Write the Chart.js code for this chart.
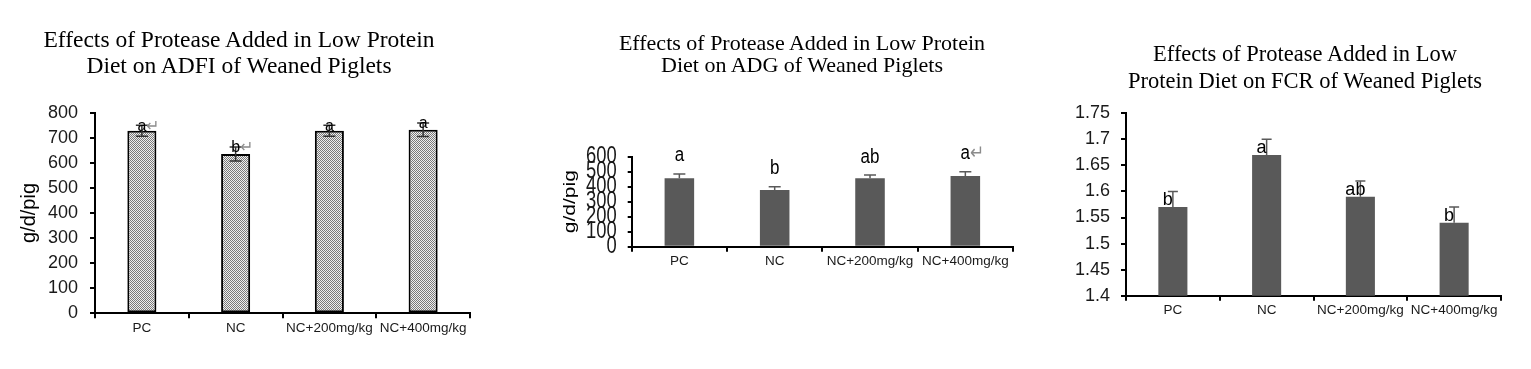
<!DOCTYPE html>
<html>
<head>
<meta charset="utf-8">
<script src="https://cdn.jsdelivr.net/npm/chart.js@4.4.1/dist/chart.umd.min.js"></script>
<style>
  body { margin: 0; background: #fff; }
  #lienzo { position: relative; width: 1531px; height: 369px; overflow: hidden; background: #fff; }
  #lienzo canvas { position: absolute; top: 0; }
  .titulo {
    position: absolute; width: 520px; text-align: center; white-space: nowrap; color: #000;
    font-family: "Liberation Serif", "Times New Roman", serif;
  }
</style>
</head>
<body>
<div id="lienzo">
  <canvas id="graficoADFI" width="500" height="369" style="left:0px"></canvas>
  <canvas id="graficoADG" width="510" height="369" style="left:530px"></canvas>
  <canvas id="graficoFCR" width="491" height="369" style="left:1040px"></canvas>

  <div class="titulo" style="left:-21px; top:26px; font-size:23.5px; line-height:26px;">Effects of Protease Added in Low Protein<br>Diet on ADFI of Weaned Piglets</div>
  <div class="titulo" style="left:542px; top:32px; font-size:22px; line-height:22px;">Effects of Protease Added in Low Protein<br>Diet on ADG of Weaned Piglets</div>
  <div class="titulo" style="left:1045px; top:41px; font-size:22.5px; line-height:26.5px;">Effects of Protease Added in Low<br>Protein Diet on FCR of Weaned Piglets</div>
</div>

<script>
// datos
const categorias = ['PC', 'NC', 'NC+200mg/kg', 'NC+400mg/kg'];

const adfiValores = [728, 635, 728, 732];
const adfiErrores = [22, 28, 22, 27];
const adfiLetras = ['a↵', 'b↵', 'a', 'a'];
const adfiTicks = [0, 100, 200, 300, 400, 500, 600, 700, 800];

const adgValores = [456, 378, 456, 471];
const adgErrores = [29, 22, 22, 29];
const adgLetras = ['a', 'b', 'ab', 'a↵'];
const adgTicks = [0, 100, 200, 300, 400, 500, 600];

const fcrValores = [1.57, 1.67, 1.59, 1.54];
const fcrErrores = [0.03, 0.03, 0.03, 0.03];
const fcrLetras = ['b', 'a', 'ab', 'b'];
const fcrTicks = [1.4, 1.45, 1.5, 1.55, 1.6, 1.65, 1.7, 1.75];

const SANS = '"Liberation Sans", Arial, sans-serif';

// barras de error + letras de significancia
const errorYLetras = {
    id: 'errorYLetras',
    afterDatasetsDraw(chart, args, opts) {
        const ctx = chart.ctx;
        const escalaY = chart.scales.y;
        const valores = chart.data.datasets[0].data;
        ctx.save();
        chart.getDatasetMeta(0).data.forEach((barra, i) => {
            const x = barra.x;
            const yArriba = escalaY.getPixelForValue(valores[i] + opts.errores[i]);
            const yAbajo = opts.ambos ? escalaY.getPixelForValue(valores[i] - opts.errores[i]) : barra.y;

            ctx.strokeStyle = opts.color;
            ctx.lineWidth = opts.grosor;
            ctx.beginPath();
            ctx.moveTo(x, yArriba);
            ctx.lineTo(x, yAbajo);
            ctx.moveTo(x - opts.tapa, yArriba);
            ctx.lineTo(x + opts.tapa, yArriba);
            if (opts.ambos) {
                ctx.moveTo(x - opts.tapa, yAbajo);
                ctx.lineTo(x + opts.tapa, yAbajo);
            }
            ctx.stroke();

            const partes = opts.letras[i].split('↵');
            const lx = x + opts.dx;
            const ly = (opts.desdeBarra ? barra.y : yArriba) + opts.dy;
            ctx.save();
            ctx.translate(lx, 0);
            ctx.scale(opts.compresion || 1, 1);
            ctx.font = opts.fuente;
            ctx.textAlign = 'center';
            ctx.textBaseline = 'middle';
            ctx.fillStyle = '#000';
            ctx.fillText(partes[0], 0, ly);
            if (partes.length > 1) {
                const ancho = ctx.measureText(partes[0]).width;
                ctx.textAlign = 'left';
                ctx.fillStyle = '#8c8c8c';
                ctx.fillText('↵', ancho / 2, ly);
            }
            ctx.restore();
        });
        ctx.restore();
    }
};

// trama punteada de la primera grafica
function crearTrama() {
    const c = document.createElement('canvas');
    c.width = 2; c.height = 2;
    const g = c.getContext('2d');
    g.fillStyle = '#efefef';
    g.fillRect(0, 0, 2, 2);
    g.fillStyle = '#7a7a7a';
    g.fillRect(0, 0, 1, 1);
    g.fillRect(1, 1, 1, 1);
    return g.createPattern(c, 'repeat');
}

// la grafica del medio tiene el texto del eje y angosto (imagen comprimida)
function comprimirEjeY(s, factor, xTexto) {
    if (s._comprimido) return;
    s._comprimido = true;
    const dibujarEtiquetas = s.drawLabels.bind(s);
    const dibujarTitulo = s.drawTitle.bind(s);
    s.drawLabels = function(area) {
        const x0 = this.right - xTexto;
        this.ctx.save();
        this.ctx.translate(x0, 0);
        this.ctx.scale(factor, 1);
        this.ctx.translate(-x0, 0);
        dibujarEtiquetas(area);
        this.ctx.restore();
    };
    s.drawTitle = function() {
        const t = this.options.title;
        const x0 = this.left + t.padding.top + t.font.size * 1.2 / 2;
        this.ctx.save();
        this.ctx.translate(x0, 0);
        this.ctx.scale(factor, 1);
        this.ctx.translate(-x0, 0);
        dibujarTitulo();
        this.ctx.restore();
    };
}

function crearGrafico(id, valores, ticks, cfg) {
    const ctx = document.getElementById(id);
    return new Chart(ctx, {
        type: 'bar',
        data: {
            labels: categorias,
            datasets: [{
                data: valores,
                backgroundColor: cfg.relleno,
                borderColor: '#000',
                borderWidth: cfg.borde,
                borderSkipped: false,
                barPercentage: 0.31,
                categoryPercentage: 1
            }]
        },
        options: {
            responsive: false,
            animation: false,
            layout: { padding: cfg.padding },
            plugins: {
                legend: { display: false },
                tooltip: { enabled: false },
                title: { display: false },
                errorYLetras: cfg.errores
            },
            scales: {
                x: {
                    type: 'category',
                    grid: { display: true, drawOnChartArea: false, drawTicks: true, tickLength: 5, color: '#000', lineWidth: 2 },
                    border: { display: true, color: '#000', width: 2 },
                    ticks: {
                        font: { family: SANS, size: 13.5 },
                        color: '#1a1a1a',
                        padding: cfg.xPadding,
                        maxRotation: 0,
                        autoSkip: false
                    },
                    afterFit: s => { s.height = 40; }
                },
                y: {
                    type: 'linear',
                    min: ticks[0],
                    max: ticks[ticks.length - 1],
                    grid: { display: true, drawOnChartArea: false, drawTicks: true, tickLength: cfg.yTick, color: '#000', lineWidth: 2 },
                    border: { display: true, color: '#000', width: 2 },
                    ticks: {
                        font: cfg.yFuente,
                        color: '#1a1a1a',
                        padding: cfg.yPadding,
                        autoSkip: false,
                        callback: v => String(v)
                    },
                    title: cfg.yTitulo,
                    afterBuildTicks: s => { s.ticks = ticks.map(v => ({ value: v })); },
                    afterFit: s => {
                        s.width = cfg.yAncho;
                        if (cfg.compresion) comprimirEjeY(s, cfg.compresion, cfg.yTick + cfg.yPadding);
                    }
                }
            }
        },
        plugins: [errorYLetras]
    });
}

crearGrafico('graficoADFI', adfiValores, adfiTicks, {
    relleno: crearTrama(),
    borde: 2,
    padding: { left: 10, right: 30, top: 112.7, bottom: 15.7 },
    xPadding: 2,
    yTick: 5,
    yPadding: 12,
    yAncho: 85,
    yFuente: { family: SANS, size: 18 },
    yTitulo: { display: true, text: 'g/d/pig', color: '#000', font: { family: SANS, size: 20 }, padding: { top: 7, bottom: 0 } },
    errores: { errores: adfiErrores, ambos: true, color: '#333', grosor: 1.5, tapa: 6, letras: adfiLetras, fuente: '16px ' + SANS, dx: 0, dy: 1, desdeBarra: false }
});

crearGrafico('graficoADG', adgValores, adgTicks, {
    relleno: '#595959',
    borde: 0,
    padding: { left: 10, right: 27, top: 156.7, bottom: 82.3 },
    xPadding: 1,
    yTick: 4,
    yPadding: 11,
    yAncho: 91.7,
    compresion: 0.8,
    yFuente: { family: SANS, size: 23 },
    yTitulo: { display: true, text: 'g/d/pig', color: '#000', font: { family: SANS, size: 21 }, padding: { top: 17.4, bottom: 0 } },
    errores: { errores: adgErrores, ambos: false, color: '#595959', grosor: 1.5, tapa: 6, letras: adgLetras, fuente: '20px ' + SANS, dx: 0, dy: -18, desdeBarra: false, compresion: 0.85 }
});

crearGrafico('graficoFCR', fcrValores, fcrTicks, {
    relleno: '#595959',
    borde: 0,
    padding: { left: 10, right: 30, top: 113.3, bottom: 33.3 },
    xPadding: 1,
    yTick: 5,
    yPadding: 11,
    yAncho: 76,
    yFuente: { family: SANS, size: 18 },
    yTitulo: { display: false },
    errores: { errores: fcrErrores, ambos: false, color: '#595959', grosor: 1.5, tapa: 5, letras: fcrLetras, fuente: '18px ' + SANS, dx: -5, dy: -7, desdeBarra: true }
});
</script>
</body>
</html>
